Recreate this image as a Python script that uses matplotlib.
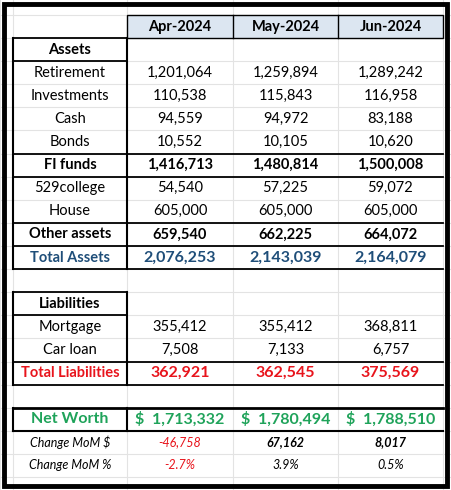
import matplotlib
matplotlib.use("Agg")
import matplotlib.pyplot as plt

months = ["Apr-2024", "May-2024", "Jun-2024"]
asset_labels = ["Retirement", "Investments", "Cash", "Bonds"]
assets = [[1201064, 1259894, 1289242], [110538, 115843, 116958],
          [94559, 94972, 83188], [10552, 10105, 10620]]
fi_funds = [1416713, 1480814, 1500008]
other_labels = ["529college", "House"]
others = [[54540, 57225, 59072], [605000, 605000, 605000]]
other_assets = [659540, 662225, 664072]
total_assets = [2076253, 2143039, 2164079]
liab_labels = ["Mortgage", "Car loan"]
liabs = [[355412, 355412, 368811], [7508, 7133, 6757]]
total_liabs = [362921, 362545, 375569]
net_worth = [1713332, 1780494, 1788510]
mom_dollar = [-46758, 67162, 8017]
mom_pct = [-2.7, 3.9, 0.5]

plt.rcParams['font.family'] = ['Lato', 'DejaVu Sans']
fig = plt.figure(figsize=(4.51, 4.90), dpi=100)
ax = fig.add_axes([0, 0, 1, 1])
ax.set_xlim(0, 451); ax.set_ylim(490, 0); ax.axis('off')

cols = [13, 127, 233, 338, 443]
rh = 23.1
y0 = 15
def ry(i): return y0 + i * rh

# faint grid
for i in range(-1, 22):
    ax.plot([0, 451], [ry(i)] * 2, color='#e3e3e3', lw=0.8, zorder=0)
for x in cols + [0]:
    ax.plot([x, x], [0, 490], color='#e3e3e3', lw=0.8, zorder=0)

# header
ax.add_patch(plt.Rectangle((cols[1], ry(0)), cols[4] - cols[1], rh, facecolor='#DCE6F1', edgecolor='black', lw=1, zorder=1))
for x in cols[2:4]:
    ax.plot([x, x], [ry(0), ry(1)], color='black', lw=1, zorder=2)
cx = [(cols[0] + cols[1]) / 2] + [(cols[j] + cols[j + 1]) / 2 for j in range(1, 4)]
fs = 10.5
for j, m in enumerate(months):
    ax.text(cx[j + 1], ry(0.5), m, ha='center', va='center', fontsize=fs, fontweight='bold')

rows = []
rows.append(("Assets", None, 'sec'))
for l, v in zip(asset_labels, assets): rows.append((l, v, 'n'))
rows.append(("FI funds", fi_funds, 'b'))
for l, v in zip(other_labels, others): rows.append((l, v, 'n'))
rows.append(("Other assets", other_assets, 'b'))
rows.append(("Total Assets", total_assets, 'ta'))
rows.append(("", None, 'blank'))
rows.append(("Liabilities", None, 'sec'))
for l, v in zip(liab_labels, liabs): rows.append((l, v, 'n'))
rows.append(("Total Liabilities", total_liabs, 'tl'))
rows.append(("", None, 'blank'))
rows.append(("Net Worth", net_worth, 'nw'))
rows.append(("Change MoM $", mom_dollar, 'md'))
rows.append(("Change MoM %", mom_pct, 'mp'))

blue = '#1F4E79'; red = '#E8141C'; green = '#1FA35A'
for i, (lab, vals, kind) in enumerate(rows, start=1):
    yc = ry(i + 0.5)
    lk = dict(fontsize=fs)
    vk = dict(fontsize=fs)
    if kind in ('sec', 'b'):
        lk['fontweight'] = 'bold'; vk['fontweight'] = 'bold'
    if kind == 'ta':
        lk.update(fontweight='bold', color=blue); vk.update(fontweight='bold', color=blue, fontsize=11.5)
    if kind == 'tl':
        lk.update(fontweight='bold', color=red); vk.update(fontweight='bold', color=red, fontsize=11.5)
    if kind == 'nw':
        lk.update(fontweight='bold', color=green, fontsize=11.5); vk.update(fontweight='bold', color=green, fontsize=11.5)
    if kind in ('md', 'mp'):
        lk.update(style='italic', fontsize=9); vk.update(style='italic', fontsize=9)
    ax.text(cx[0], yc, lab, ha='center', va='center', **lk)
    if vals is None: continue
    for j, v in enumerate(vals):
        kw = dict(vk)
        if kind == 'nw':
            s = f"$  {v:,}"
        elif kind == 'md':
            s = f"{v:,}"; kw['fontweight'] = 'bold'
            if v < 0: kw.update(color=red, fontweight='normal')
        elif kind == 'mp':
            s = f"{v:.1f}%"
            if v < 0: kw['color'] = red
        else:
            s = f"{v:,}"
        ax.text(cx[j + 1], yc, s, ha='center', va='center', **kw)

def hl(i, x0=cols[0], x1=cols[4], lw=1.3):
    ax.plot([x0, x1], [ry(i)] * 2, color='black', lw=lw, zorder=3)
def vl(x, i0, i1, lw=1.5):
    ax.plot([x, x], [ry(i0), ry(i1)], color='black', lw=lw, zorder=3)

# Assets block
hl(1, cols[0], cols[1]); hl(2, cols[0], cols[1])
for k in (6, 7, 9, 10, 11): hl(k)
vl(cols[0], 1, 11); vl(cols[1], 1, 11)
# Liabilities block
hl(12, cols[0], cols[1]); hl(13, cols[0], cols[1])
hl(15); hl(16)
vl(cols[0], 12, 16); vl(cols[1], 12, 16)
# Net worth
hl(17, lw=2); hl(18, lw=1.5)
vl(cols[0], 17, 18); vl(cols[1], 17, 18)

# outer frame
ax.add_patch(plt.Rectangle((4, 4), 443, 482, fill=False, edgecolor='black', lw=3.5, zorder=4))

fig.savefig("out.png", dpi=100)
